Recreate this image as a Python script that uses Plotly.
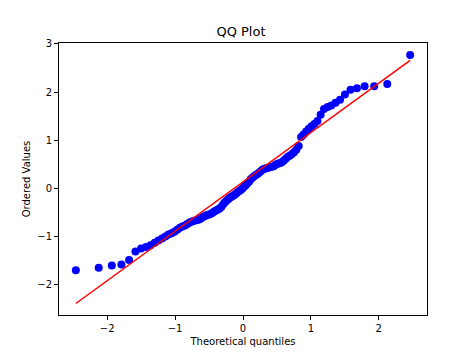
import plotly.graph_objects as go

# Theoretical quantiles (lower half; upper half mirrors)
quantiles_lower = [-2.462, -2.125, -1.932, -1.791, -1.678, -1.584, -1.501, -1.429, -1.362, -1.301,
                   -1.246, -1.193, -1.143, -1.097, -1.052, -1.010, -0.969, -0.930, -0.892, -0.856,
                   -0.820, -0.785, -0.752, -0.719, -0.687, -0.656, -0.625, -0.595, -0.566, -0.537,
                   -0.508, -0.480, -0.452, -0.424, -0.397, -0.370, -0.344, -0.318, -0.291, -0.266,
                   -0.240, -0.214, -0.189, -0.164, -0.138, -0.113, -0.088, -0.062, -0.037, -0.012]
quantiles = quantiles_lower + [-q for q in reversed(quantiles_lower)]

ordered_values = [-1.70, -1.65, -1.60, -1.58, -1.49, -1.31, -1.25, -1.22, -1.18, -1.13,
                  -1.08, -1.04, -1.00, -0.96, -0.93, -0.90, -0.86, -0.82, -0.79, -0.77,
                  -0.74, -0.71, -0.69, -0.67, -0.66, -0.65, -0.63, -0.60, -0.58, -0.56,
                  -0.55, -0.53, -0.51, -0.48, -0.46, -0.44, -0.42, -0.38, -0.33, -0.29,
                  -0.25, -0.22, -0.19, -0.17, -0.15, -0.12, -0.09, -0.06, -0.04, -0.01,
                  0.03, 0.06, 0.10, 0.14, 0.19, 0.22, 0.25, 0.28, 0.30, 0.33,
                  0.36, 0.39, 0.41, 0.42, 0.43, 0.44, 0.45, 0.46, 0.49, 0.51,
                  0.52, 0.54, 0.57, 0.61, 0.65, 0.68, 0.71, 0.75, 0.80, 0.88,
                  1.07, 1.12, 1.18, 1.24, 1.29, 1.34, 1.40, 1.53, 1.65, 1.69,
                  1.72, 1.78, 1.84, 1.95, 2.05, 2.08, 2.12, 2.12, 2.17, 2.77]

fit_slope = 1.026
fit_intercept = 0.135

line_x = [quantiles[0], quantiles[-1]]
line_y = [fit_intercept + fit_slope * x for x in line_x]

x_ticks = [-2, -1, 0, 1, 2]
y_ticks = [-2, -1, 0, 1, 2, 3]

fig = go.Figure()
fig.add_trace(go.Scatter(x=quantiles, y=ordered_values, mode="markers",
                         marker=dict(color="#0000ff", size=8, line=dict(width=0)),
                         showlegend=False))
fig.add_trace(go.Scatter(x=line_x, y=line_y, mode="lines",
                         line=dict(color="#ff0000", width=1.5), showlegend=False))

axis_common = dict(showgrid=False, zeroline=False, showline=True, linecolor="black",
                   linewidth=1, mirror=True, ticks="outside", ticklen=4, tickwidth=1,
                   tickcolor="black", automargin=False,
                   tickfont=dict(family="DejaVu Sans", size=10, color="black"))

# page body has an 8px margin; figure is sized to fill the remaining window
fig.update_layout(
    width=466, height=347,
    margin=dict(l=51, r=47, t=35, b=40),
    paper_bgcolor="white", plot_bgcolor="white",
    title=dict(text="QQ Plot", x=0.5, xanchor="center", y=0.931, yanchor="middle",
               font=dict(family="DejaVu Sans", size=13, color="black")),
    xaxis=dict(range=[-2.71, 2.71], tickvals=x_ticks,
               title=dict(text="Theoretical quantiles", standoff=4,
                          font=dict(family="DejaVu Sans", size=10, color="black")),
               **axis_common),
    yaxis=dict(range=[-2.63, 3.02], tickvals=y_ticks,
               title=dict(text="Ordered Values", standoff=4,
                          font=dict(family="DejaVu Sans", size=10, color="black")),
               **axis_common),
)

fig.write_html("out.html")
